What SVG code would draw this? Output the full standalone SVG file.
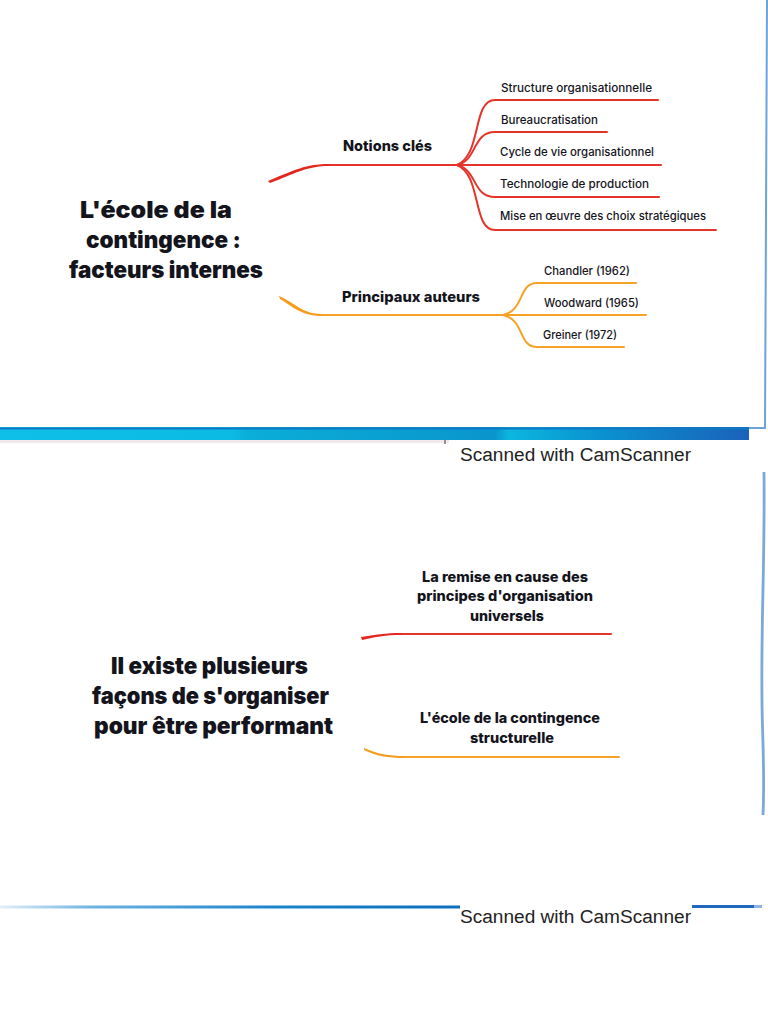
<svg xmlns="http://www.w3.org/2000/svg" width="768" height="1024" viewBox="0 0 768 1024">
<style>
text{font-family:Inter,"Liberation Sans",sans-serif;fill:#14141c}
.t{font-size:23px;font-weight:900}
.h{font-size:14.500px;font-weight:800}
.s{font-size:11.500px;font-weight:500}
.m{font-size:14px;font-weight:800}
.c{font-family:"Liberation Sans",Arial,sans-serif;font-size:18px;fill:#222}
.r,.o{fill:none;stroke-linecap:round;stroke-width:2}
.r{stroke:#e5352a}
.o{stroke:#f5a226}
</style>
<defs>
<linearGradient id="band" x1="0" x2="749" y1="0" y2="0" gradientUnits="userSpaceOnUse">
<stop offset="0" stop-color="#0fbfe8"/><stop offset="0.31" stop-color="#0cbbe4"/><stop offset="0.33" stop-color="#0aaed8"/><stop offset="0.66" stop-color="#0a95cc"/><stop offset="0.68" stop-color="#0cb6de"/><stop offset="0.8" stop-color="#0a92d0"/><stop offset="1" stop-color="#1b62ba"/>
</linearGradient>
<linearGradient id="low" x1="0" x2="1" y1="0" y2="0">
<stop offset="0" stop-color="#e2eff9"/><stop offset="0.2" stop-color="#6db4e2"/><stop offset="0.6" stop-color="#1a83cb"/><stop offset="1" stop-color="#0b6fbe"/>
</linearGradient>
</defs>
<rect width="768" height="1024" fill="#fff"/>

<g id="frame-top">
<path d="M767 0L765 428H749" fill="none" stroke="#6da3d8" stroke-width="2"/>
<rect x="0" y="427" width="749" height="13" fill="url(#band)"/>
<rect x="0" y="427.500" width="749" height="2" fill="#0f79c6"/>
<rect x="0" y="440" width="449" height="3" fill="#f3e9ec"/>
<rect x="444" y="440" width="2" height="4" fill="#9a8f8f"/>
</g>
<g id="frame-bottom">
<path d="M764 472C765 560 761 620 762 700C762 730 765 770 763 815" fill="none" stroke="#7aa9da" stroke-width="2.800"/>
<rect x="0" y="905.500" width="460" height="3" fill="url(#low)"/>
<rect x="692" y="905" width="62" height="3" fill="#1e68bd"/>
<rect x="754" y="905" width="8" height="3" fill="#8db5e2"/>
</g>

<g id="connectors">
<path d="M268 181C295 170 305 164 330 164V166C305 166 295 174 270 183Z" fill="#e5261f"/>
<path class="r" d="M330 165H457"/>
<path class="r" d="M457 165C482 155 472 100 495 100H658"/>
<path class="r" d="M457 165C478 160 472 132 495 132H607"/>
<path class="r" d="M457 165H661"/>
<path class="r" d="M457 165C478 170 472 197 495 197H659"/>
<path class="r" d="M457 165C482 175 472 230 495 230H716"/>
<path d="M279 296C295 303 303 314 322 314V316C301 316 292 306 280 299Z" fill="#f59c1d"/>
<path class="o" d="M322 315H503"/>
<path class="o" d="M503 315C525 310 518 283 537 283H636"/>
<path class="o" d="M503 315H646"/>
<path class="o" d="M503 315C525 320 518 347 537 347H624"/>
<path d="M361 637C375 635 385 633 402 633V635C385 635 375 637 362 640Z" fill="#e5261f"/>
<path class="r" d="M402 634H611"/>
<path d="M364 748C378 754 388 756 405 756V758C388 758 376 756 364 750Z" fill="#f59c1d"/>
<path class="o" d="M405 757H619"/>
</g>

<g id="title-1">
<text class="t" x="80" y="218" textLength="152" lengthAdjust="spacingAndGlyphs">L'école de la</text>
<text class="t" x="86" y="248" textLength="155" lengthAdjust="spacingAndGlyphs">contingence :</text>
<text class="t" x="69" y="278" textLength="194" lengthAdjust="spacingAndGlyphs">facteurs internes</text>
</g>
<g id="notions">
<text class="h" x="343" y="151" textLength="89" lengthAdjust="spacingAndGlyphs">Notions clés</text>
</g>
<g id="n1"><text class="s" x="501" y="92" textLength="151" lengthAdjust="spacingAndGlyphs">Structure organisationnelle</text></g>
<g id="n2"><text class="s" x="501" y="124" textLength="97" lengthAdjust="spacingAndGlyphs">Bureaucratisation</text></g>
<g id="n3"><text class="s" x="500" y="156" textLength="154" lengthAdjust="spacingAndGlyphs">Cycle de vie organisationnel</text></g>
<g id="n4"><text class="s" x="500" y="188" textLength="149" lengthAdjust="spacingAndGlyphs">Technologie de production</text></g>
<g id="n5"><text class="s" x="500" y="220" textLength="206" lengthAdjust="spacingAndGlyphs">Mise en œuvre des choix stratégiques</text></g>
<g id="auteurs">
<text class="h" x="342" y="302" textLength="138" lengthAdjust="spacingAndGlyphs">Principaux auteurs</text>
</g>
<g id="a1"><text class="s" x="544" y="275" textLength="86" lengthAdjust="spacingAndGlyphs">Chandler (1962)</text></g>
<g id="a2"><text class="s" x="544" y="307" textLength="95" lengthAdjust="spacingAndGlyphs">Woodward (1965)</text></g>
<g id="a3"><text class="s" x="543" y="339" textLength="74" lengthAdjust="spacingAndGlyphs">Greiner (1972)</text></g>

<text class="c" x="460" y="461" textLength="231" lengthAdjust="spacingAndGlyphs">Scanned with CamScanner</text>

<g id="title-2">
<text class="t" x="111" y="674" textLength="197" lengthAdjust="spacingAndGlyphs">Il existe plusieurs</text>
<text class="t" x="92" y="704" textLength="237" lengthAdjust="spacingAndGlyphs">façons de s'organiser</text>
<text class="t" x="94" y="734" textLength="239" lengthAdjust="spacingAndGlyphs">pour être performant</text>
</g>
<g id="remise">
<text class="m" x="422" y="582" textLength="166" lengthAdjust="spacingAndGlyphs">La remise en cause des</text>
<text class="m" x="417" y="601" textLength="176" lengthAdjust="spacingAndGlyphs">principes d'organisation</text>
<text class="m" x="470" y="621" textLength="74" lengthAdjust="spacingAndGlyphs">universels</text>
</g>
<g id="ecole">
<text class="m" x="420" y="723" textLength="180" lengthAdjust="spacingAndGlyphs">L'école de la contingence</text>
<text class="m" x="470" y="743" textLength="84" lengthAdjust="spacingAndGlyphs">structurelle</text>
</g>

<text class="c" x="460" y="923" textLength="231" lengthAdjust="spacingAndGlyphs">Scanned with CamScanner</text>
</svg>
